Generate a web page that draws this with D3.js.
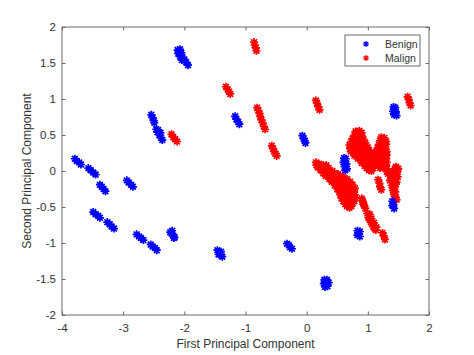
<!DOCTYPE html>
<html>
<head>
<meta charset="utf-8">
<script src="https://cdn.jsdelivr.net/npm/d3@7"></script>
<style>
  body { margin: 0; background: #fff; }
  text { font-family: "Liberation Sans", Arial, sans-serif; }
</style>
</head>
<body>
<div id="chart"></div>
<script>
// Points, one [x, y] per marker
const benign = [
    [-3.79, 0.17], [-3.76, 0.14], [-3.72, 0.12], [-3.69, 0.09],
    [-3.57, 0.04], [-3.53, 0.01], [-3.49, -0.02], [-3.45, -0.05],
    [-3.38, -0.19], [-3.35, -0.22], [-3.32, -0.25], [-3.29, -0.28],
    [-2.94, -0.13], [-2.91, -0.16], [-2.87, -0.19], [-2.84, -0.22],
    [-3.49, -0.57], [-3.45, -0.60], [-3.41, -0.62], [-3.38, -0.65],
    [-3.26, -0.71], [-3.22, -0.74], [-3.19, -0.77], [-3.15, -0.80],
    [-2.78, -0.88], [-2.74, -0.91], [-2.71, -0.93], [-2.67, -0.96],
    [-2.55, -1.02], [-2.52, -1.05], [-2.48, -1.07], [-2.45, -1.10],
    [-2.23, -0.85], [-2.21, -0.87], [-2.18, -0.90], [-2.16, -0.92], [-2.20, -0.83], [-2.17, -0.93],
    [-1.46, -1.10], [-1.43, -1.13], [-1.41, -1.16], [-1.38, -1.19], [-1.44, -1.16], [-1.40, -1.12],
    [-0.32, -1.01], [-0.29, -1.03], [-0.27, -1.06], [-0.24, -1.08],
    [0.29, -1.51], [0.31, -1.54], [0.32, -1.57], [0.34, -1.60], [0.28, -1.56], [0.36, -1.55], [0.30, -1.61], [0.33, -1.51],
    [0.83, -0.83], [0.87, -0.84], [0.83, -0.89], [0.87, -0.91], [0.85, -0.87],
    [1.40, -0.42], [1.42, -0.47], [1.43, -0.52], [1.40, -0.48],
    [0.61, 0.18], [0.64, 0.17], [0.60, 0.12], [0.65, 0.10], [0.62, 0.06], [0.66, 0.03], [0.63, 0.01],
    [1.42, 0.89], [1.45, 0.88], [1.41, 0.83], [1.46, 0.82], [1.43, 0.78], [1.47, 0.77],
    [-0.07, 0.49], [-0.05, 0.45], [-0.03, 0.42], [-0.02, 0.39],
    [-1.17, 0.76], [-1.15, 0.72], [-1.12, 0.68], [-1.10, 0.65],
    [-2.54, 0.78], [-2.52, 0.74], [-2.50, 0.70], [-2.49, 0.67],
    [-2.46, 0.58], [-2.44, 0.54], [-2.41, 0.50], [-2.38, 0.46], [-2.36, 0.43], [-2.43, 0.57], [-2.39, 0.53],
    [-2.11, 1.68], [-2.07, 1.69], [-2.10, 1.63], [-2.05, 1.64], [-2.07, 1.59], [-2.03, 1.58],
    [-2.00, 1.55], [-1.97, 1.51], [-1.94, 1.47], [-2.04, 1.54]
];

const malign = [
    [-0.86, 1.79], [-0.85, 1.75], [-0.83, 1.71], [-0.82, 1.67],
    [-1.32, 1.17], [-1.29, 1.13], [-1.27, 1.10], [-1.25, 1.07],
    [-2.21, 0.51], [-2.18, 0.47], [-2.15, 0.44], [-2.12, 0.41],
    [-0.81, 0.88], [-0.79, 0.84], [-0.77, 0.80], [-0.76, 0.76],
    [-0.74, 0.71], [-0.72, 0.67], [-0.70, 0.62], [-0.68, 0.58],
    [-0.57, 0.35], [-0.55, 0.31], [-0.53, 0.27], [-0.51, 0.24], [-0.49, 0.21],
    [0.15, 0.98], [0.17, 0.94], [0.19, 0.89], [0.21, 0.85],
    [1.65, 1.03], [1.67, 0.99], [1.68, 0.95], [1.70, 0.91],
    // big group: upper left lobe
    [0.80, 0.55], [0.86, 0.56], [0.90, 0.53],
    [0.78, 0.50], [0.84, 0.51], [0.90, 0.49],
    [0.75, 0.45], [0.81, 0.46], [0.87, 0.46], [0.93, 0.44],
    [0.73, 0.41], [0.79, 0.41], [0.85, 0.41], [0.91, 0.40], [0.96, 0.39],
    [0.70, 0.36], [0.76, 0.37], [0.82, 0.37], [0.88, 0.36], [0.94, 0.35], [1.00, 0.33],
    [0.71, 0.31], [0.77, 0.31], [0.83, 0.31], [0.89, 0.31], [0.95, 0.30], [1.01, 0.29],
    [0.72, 0.27], [0.78, 0.26], [0.84, 0.26], [0.90, 0.26], [0.96, 0.25], [1.02, 0.24], [1.06, 0.26],
    [0.78, 0.21], [0.84, 0.21], [0.90, 0.21], [0.96, 0.20], [1.02, 0.20], [1.08, 0.21],
    [0.84, 0.17], [0.90, 0.16], [0.96, 0.15], [1.02, 0.16], [1.08, 0.15],
    [0.90, 0.11], [0.96, 0.11], [1.02, 0.11], [1.08, 0.11], [1.12, 0.12],
    [0.95, 0.07], [1.01, 0.06], [1.07, 0.07], [1.11, 0.08],
    [0.98, 0.04], [1.04, 0.04], [1.09, 0.04],
    [1.02, 0.01], [1.06, 0.00],
    // upper right lobe
    [1.22, 0.47], [1.27, 0.46],
    [1.20, 0.42], [1.26, 0.42], [1.30, 0.41],
    [1.18, 0.37], [1.24, 0.38], [1.30, 0.37],
    [1.16, 0.32], [1.22, 0.33], [1.28, 0.32],
    [1.14, 0.27], [1.20, 0.28], [1.26, 0.27], [1.31, 0.27],
    [1.13, 0.23], [1.19, 0.23], [1.25, 0.22], [1.31, 0.22],
    [1.12, 0.18], [1.18, 0.18], [1.24, 0.18], [1.30, 0.17],
    [1.14, 0.13], [1.20, 0.13], [1.26, 0.13], [1.31, 0.12],
    [1.16, 0.08], [1.24, 0.09], [1.30, 0.08],
    [1.20, 0.04], [1.27, 0.04], [1.31, 0.03],
    [1.31, -0.01], [1.33, -0.04],
    // right arm
    [1.46, 0.06], [1.50, 0.03], [1.42, 0.00], [1.48, -0.02], [1.37, -0.06], [1.43, -0.07], [1.49, -0.08],
    [1.36, -0.13], [1.42, -0.14], [1.47, -0.15], [1.39, -0.20], [1.44, -0.22], [1.41, -0.27],
    [1.45, -0.29], [1.44, -0.35], [1.47, -0.40],
    [1.44, 0.03], [1.40, -0.03], [1.46, -0.05], [1.39, -0.10], [1.45, -0.11],
    [1.41, -0.17], [1.46, -0.18], [1.42, -0.24], [1.43, -0.32], [1.46, -0.37],
    [1.17, -0.12], [1.19, -0.17], [1.20, -0.22], [1.22, -0.26],
    // lower chain
    [0.90, -0.38], [0.92, -0.43], [0.94, -0.48], [0.96, -0.52], [0.91, -0.41], [0.93, -0.46],
    [0.99, -0.59], [1.03, -0.60], [1.01, -0.65], [1.06, -0.66], [1.05, -0.71], [1.10, -0.72],
    [1.09, -0.77], [1.14, -0.78], [1.13, -0.82], [1.03, -0.68], [1.07, -0.74], [1.11, -0.80],
    [1.24, -0.86], [1.26, -0.90], [1.28, -0.95],
    // left arm
    [0.15, 0.12], [0.20, 0.10],
    [0.16, 0.08], [0.21, 0.08], [0.27, 0.08], [0.32, 0.08],
    [0.18, 0.05], [0.24, 0.05], [0.30, 0.05], [0.36, 0.04],
    [0.23, 0.01], [0.30, 0.01], [0.36, 0.00], [0.42, 0.00],
    [0.27, -0.03], [0.33, -0.03], [0.39, -0.03], [0.45, -0.03], [0.51, -0.04],
    [0.31, -0.07], [0.37, -0.07], [0.43, -0.07], [0.49, -0.07], [0.55, -0.07], [0.60, -0.08],
    [0.37, -0.11], [0.43, -0.11], [0.49, -0.11], [0.55, -0.11], [0.61, -0.11], [0.66, -0.11],
    [0.41, -0.15], [0.47, -0.15], [0.53, -0.15], [0.59, -0.15], [0.65, -0.15], [0.71, -0.15],
    [0.46, -0.20], [0.52, -0.20], [0.58, -0.20], [0.64, -0.20], [0.70, -0.20], [0.75, -0.19],
    [0.50, -0.25], [0.56, -0.25], [0.62, -0.25], [0.68, -0.25], [0.74, -0.25], [0.79, -0.24],
    [0.53, -0.29], [0.59, -0.29], [0.65, -0.29], [0.71, -0.29], [0.77, -0.29],
    [0.55, -0.33], [0.61, -0.33], [0.67, -0.33], [0.73, -0.33], [0.79, -0.33],
    [0.57, -0.38], [0.63, -0.38], [0.69, -0.38], [0.75, -0.38], [0.79, -0.37],
    [0.60, -0.42], [0.66, -0.42], [0.72, -0.42], [0.78, -0.42],
    [0.63, -0.46], [0.69, -0.46], [0.75, -0.45],
    [0.66, -0.49], [0.73, -0.49],
    [0.70, -0.51]
];

const xTicks = [-4, -3, -2, -1, 0, 1, 2];
const yTicks = [-2, -1.5, -1, -0.5, 0, 0.5, 1, 1.5, 2];
const seriesNames = ['Benign', 'Malign'];
const seriesColors = ['#0000ff', '#ff0000'];

const W = 474, H = 355;
const margin = { top: 27, right: 45, bottom: 40, left: 62 };
const width = W - margin.left - margin.right;
const height = H - margin.top - margin.bottom;

const svg = d3.select('#chart')
    .append('svg')
    .attr('width', W)
    .attr('height', H);

const g = svg.append('g')
    .attr('transform', `translate(${margin.left},${margin.top})`);

const x = d3.scaleLinear().domain([-4, 2]).range([0, width]);
const y = d3.scaleLinear().domain([-2, 2]).range([height, 0]);

// asterisk marker: plus + cross
function star(r) {
    const d = r * 0.72;
    return `M${-r},0L${r},0M0,${-r}L0,${r}M${-d},${-d}L${d},${d}M${-d},${d}L${d},${-d}`;
}

// markers, red first so blue sits on top
[[malign, seriesColors[1]], [benign, seriesColors[0]]].forEach(([pts, col]) => {
    g.append('g')
        .selectAll('path')
        .data(pts)
        .enter()
        .append('path')
        .attr('transform', d => `translate(${x(d[0])},${y(d[1])})`)
        .attr('d', star(4))
        .attr('fill', 'none')
        .attr('stroke', col)
        .attr('stroke-width', 1.7);
});

// axes, MATLAB style box with ticks inside
const axisColor = '#6b6b6b';
const tickLen = 3.5;
const fmt = d => String(d);

function styleAxis(sel, hideText) {
    sel.select('.domain').remove();
    sel.selectAll('.tick line').attr('stroke', axisColor);
    sel.selectAll('.tick text')
        .attr('fill', '#333')
        .style('font-size', '11.5px');
    if (hideText) sel.selectAll('.tick text').remove();
}

g.append('g')
    .attr('transform', `translate(0,${height})`)
    .call(d3.axisBottom(x).tickValues(xTicks).tickSize(-tickLen).tickPadding(9).tickFormat(fmt))
    .call(s => styleAxis(s, false));

g.append('g')
    .call(d3.axisTop(x).tickValues(xTicks).tickSize(-tickLen))
    .call(s => styleAxis(s, true));

g.append('g')
    .call(d3.axisLeft(y).tickValues(yTicks).tickSize(-tickLen).tickPadding(6).tickFormat(fmt))
    .call(s => styleAxis(s, false));

g.append('g')
    .attr('transform', `translate(${width},0)`)
    .call(d3.axisRight(y).tickValues(yTicks).tickSize(-tickLen))
    .call(s => styleAxis(s, true));

g.append('rect')
    .attr('width', width)
    .attr('height', height)
    .attr('fill', 'none')
    .attr('stroke', axisColor)
    .attr('stroke-width', 1);

// axis labels
g.append('text')
    .attr('x', width / 2)
    .attr('y', height + 33)
    .attr('text-anchor', 'middle')
    .attr('fill', '#333')
    .style('font-size', '12px')
    .text('First Principal Component');

g.append('text')
    .attr('transform', `translate(-31,${height / 2}) rotate(-90)`)
    .attr('text-anchor', 'middle')
    .attr('fill', '#333')
    .style('font-size', '12px')
    .text('Second Principal Component');

// legend
const legend = g.append('g')
    .attr('transform', `translate(${345 - margin.left},${35 - margin.top})`);

legend.append('rect')
    .attr('width', 75)
    .attr('height', 31)
    .attr('fill', '#fff')
    .attr('stroke', axisColor);

seriesNames.forEach((name, i) => {
    const row = legend.append('g')
        .attr('transform', `translate(0,${9 + i * 14})`);
    row.append('path')
        .attr('transform', 'translate(21,0)')
        .attr('d', star(3))
        .attr('fill', 'none')
        .attr('stroke', seriesColors[i])
        .attr('stroke-width', 1.1);
    row.append('text')
        .attr('x', 40)
        .attr('y', 4)
        .attr('fill', '#333')
        .style('font-size', '10.5px')
        .text(name);
});
</script>
</body>
</html>
